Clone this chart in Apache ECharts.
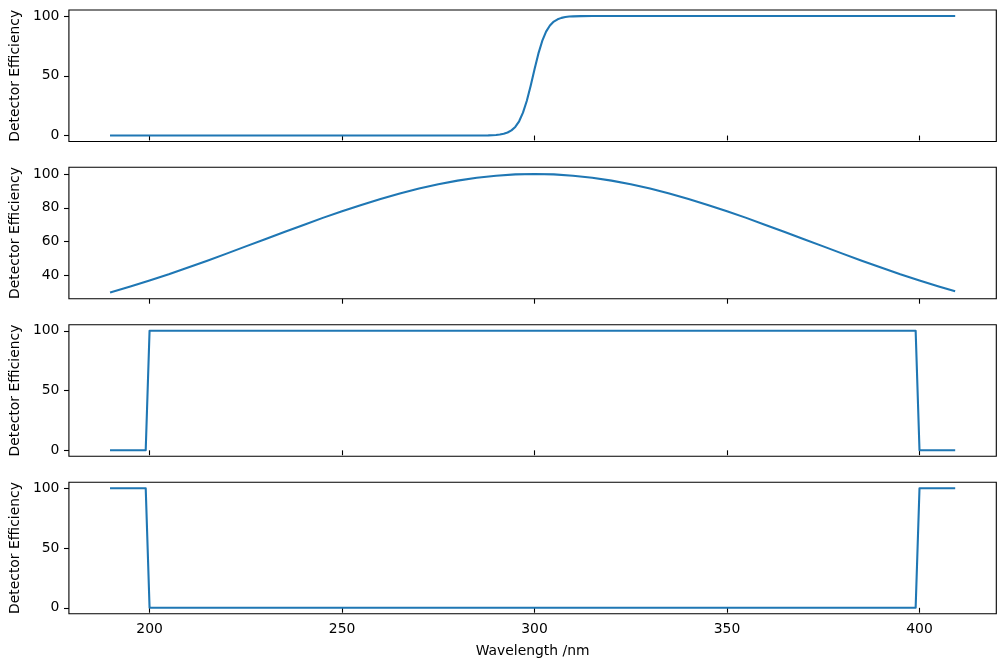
<!DOCTYPE html>
<html>
<head>
<meta charset="utf-8">
<script src="https://cdn.jsdelivr.net/npm/echarts@6/dist/echarts.min.js"></script>
<style>
html,body{margin:0;padding:0;background:#fff;}
#chart{width:1005px;height:667px;}
</style>
</head>
<body>
<div id="chart"></div>
<script>
// ---- data ----
const xTicks = [200, 250, 300, 350, 400];
const yTicksStep = [0, 50, 100];
const yTicksGauss = [40, 60, 80, 100];

// Panel 1: sigmoid edge near 300 nm
const p1Wavelength = [190, 280, 285, 288, 290, 291, 292, 293, 294, 295, 296, 297, 298, 299, 300, 301, 302, 303, 304, 305, 306, 307, 308, 309, 310, 312, 315, 320, 409];
const p1Efficiency = [0, 0, 0.03, 0.16, 0.48, 0.83, 1.45, 2.5, 4.3, 7.2, 11.9, 19.1, 29.1, 41.7, 55.5, 68.5, 79.1, 86.9, 92.0, 95.3, 97.2, 98.4, 99.1, 99.5, 99.7, 99.9, 100, 100, 100];

// Panel 2: bell-shaped response peaking at 300 nm
const p2Wavelength = [190, 195, 200, 205, 210, 215, 220, 225, 230, 235, 240, 245, 250, 255, 260, 265, 270, 275, 280, 285, 290, 295, 300, 305, 310, 315, 320, 325, 330, 335, 340, 345, 350, 355, 360, 365, 370, 375, 380, 385, 390, 395, 400, 405, 409];
const p2Efficiency = [29.9, 33.3, 36.9, 40.6, 44.6, 48.6, 52.8, 57.1, 61.3, 65.6, 69.8, 74.0, 77.9, 81.7, 85.2, 88.5, 91.4, 94.0, 96.1, 97.8, 99.0, 99.8, 100, 99.8, 99.0, 97.8, 96.1, 94.0, 91.4, 88.5, 85.2, 81.7, 77.9, 74.0, 69.8, 65.6, 61.3, 57.1, 52.8, 48.6, 44.6, 40.6, 36.9, 33.3, 30.6];

// Panel 3: band-pass 200-400 nm
const p3Wavelength = [190, 199, 200, 399, 400, 409];
const p3Efficiency = [0, 0, 100, 100, 0, 0];

// Panel 4: band-stop 200-400 nm
const p4Wavelength = [190, 199, 200, 399, 400, 409];
const p4Efficiency = [100, 100, 0, 0, 100, 100];

const xLabel = 'Wavelength /nm';
const yLabel = 'Detector Efficiency';

// ---- chart ----
const FONT = 'DejaVu Sans';
const FS = 13.9;
const LINE = '#1f77b4';
const tops = [10, 167.3, 324.8, 482.3];
const H = 131.5;
const yRanges = [[-5, 105], [26, 104], [-5, 105], [-5, 105]];
const yTickSets = [yTicksStep, yTicksGauss, yTicksStep, yTicksStep];
const seriesData = [
  [p1Wavelength, p1Efficiency],
  [p2Wavelength, p2Efficiency],
  [p3Wavelength, p3Efficiency],
  [p4Wavelength, p4Efficiency]
];

const grids = [], xAxes = [], yAxes = [], series = [];
for (let i = 0; i < 4; i++) {
  grids.push({
    left: 66.7, width: 929.6, top: tops[i], height: H,
    show: true, borderColor: '#000', borderWidth: 1.1, backgroundColor: 'transparent'
  });
  const last = i === 3;
  xAxes.push({
    type: 'value', gridIndex: i, min: 179.05, max: 419.95,
    axisLine: { show: false },
    splitLine: { show: false },
    axisTick: { show: true, inside: false, length: 4.9, lineStyle: { color: '#000', width: 1.1 }, customValues: xTicks },
    axisLabel: { show: last, color: '#000', fontFamily: FONT, fontSize: FS, margin: 9, customValues: xTicks },
    name: last ? xLabel : '',
    nameLocation: 'middle', nameGap: 31,
    nameTextStyle: { color: '#000', fontFamily: FONT, fontSize: FS }
  });
  yAxes.push({
    type: 'value', gridIndex: i, min: yRanges[i][0], max: yRanges[i][1],
    axisLine: { show: false },
    splitLine: { show: false },
    axisTick: { show: true, inside: false, length: 4.9, lineStyle: { color: '#000', width: 1.1 }, customValues: yTickSets[i] },
    axisLabel: { color: '#000', fontFamily: FONT, fontSize: FS, margin: 9.5, customValues: yTickSets[i] },
    name: yLabel, nameLocation: 'middle', nameGap: 44, nameRotate: 90,
    nameTextStyle: { color: '#000', fontFamily: FONT, fontSize: FS }
  });
  const [xs, ys] = seriesData[i];
  series.push({
    type: 'line', xAxisIndex: i, yAxisIndex: i,
    data: xs.map((x, k) => [x, ys[k]]),
    showSymbol: false, symbol: 'none', smooth: false, clip: true,
    lineStyle: { color: LINE, width: 2.1, cap: 'square', join: 'round' },
    animation: false
  });
}

const chart = echarts.init(document.getElementById('chart'), null, { renderer: 'canvas' });
chart.setOption({
  animation: false,
  backgroundColor: '#fff',
  textStyle: { fontFamily: FONT },
  grid: grids, xAxis: xAxes, yAxis: yAxes, series: series
});
</script>
</body>
</html>
